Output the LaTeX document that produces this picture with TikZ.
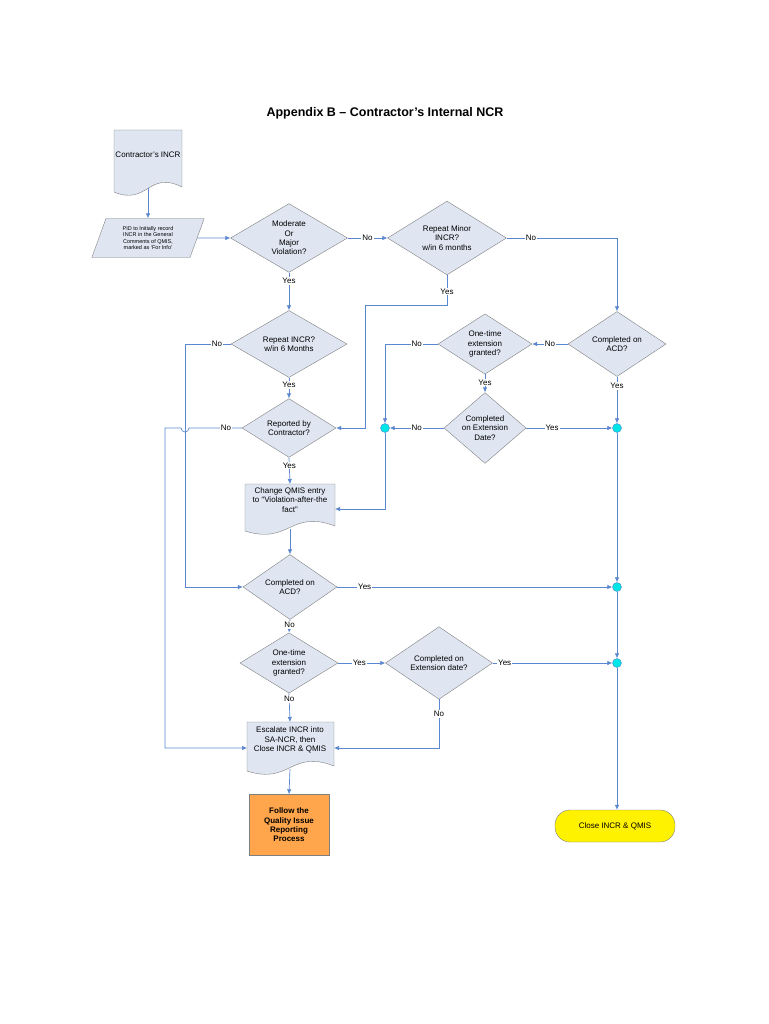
\documentclass[tikz,border=0pt]{standalone}
\usepackage{fontspec}
\setmainfont{Liberation Sans}
\usetikzlibrary{shapes.geometric,arrows.meta}
\definecolor{lnblue}{HTML}{5B87D0}
\definecolor{boxfill}{HTML}{DFE6F2}
\definecolor{boxline}{HTML}{7F7F7F}
\definecolor{juncfill}{HTML}{00E6E6}
\begin{document}
\begin{tikzpicture}[x=1pt,y=-1pt,font=\fontsize{8}{9.3}\selectfont,
  line/.style={draw=lnblue,line width=0.7pt},
  arr/.style={line,-{Latex[length=5pt,width=4.5pt]}},
  dec/.style={diamond,draw=boxline,fill=boxfill,inner sep=0pt,align=center},
  doc/.style={inner sep=0pt,align=center},
  lab/.style={fill=white,inner sep=1pt},
  junc/.style={circle,draw=lnblue,fill=juncfill,minimum size=9pt,inner sep=0pt}]
\useasboundingbox (0,0) rectangle (768,1024);
\node[font=\bfseries\fontsize{12.5}{14}\selectfont] (title) at (385,113) {Appendix B -- Contractor’s Internal NCR};

% document shapes
\newcommand{\docpath}[4]{% x1, y1, x2, y2
  \draw[boxline,fill=boxfill] (#1,#2) -- (#3,#2) -- (#3,#4-5) .. controls ({(#1+#3)/2},#4-22) and ({(#1+#3)/2},#4+14) .. (#1,#4) -- cycle;}
\docpath{114}{130}{182}{192}
\node[doc] (start) at (148,155) {Contractor’s INCR};
\docpath{245}{484}{335}{531}
\node[doc] (chg) at (290,500) {Change QMIS entry\\to ``Violation-after-the\\fact”};
\docpath{247}{722}{334}{771}
\node[doc] (esc) at (290,740) {Escalate INCR into\\SA-NCR, then\\Close INCR \& QMIS};

\node[trapezium,trapezium left angle=70,trapezium right angle=110,draw=boxline,fill=boxfill,
  minimum width=105pt,minimum height=39pt,inner sep=0pt,align=center,
  font=\fontsize{5.5}{6.5}\selectfont] (pid) at (148,238)
  {PID to Initially record\\INCR in the General\\Comments of QMIS,\\marked as ‘For Info’};

\node[dec,minimum width=117pt,minimum height=67pt] (mod) at (289,238) {Moderate\\Or\\Major\\Violation?};
\node[dec,minimum width=119pt,minimum height=67pt] (rmin) at (447,238) {Repeat Minor\\INCR?\\w/in 6 months};
\node[dec,minimum width=116pt,minimum height=67pt] (rep) at (289,344) {Repeat INCR?\\w/in 6 Months};
\node[dec,minimum width=98pt,minimum height=52pt] (acd1) at (617,344) {Completed on\\ACD?};
\node[dec,minimum width=94pt,minimum height=50pt] (ext1) at (485,344) {One-time\\extension\\granted?};
\node[dec,minimum width=82pt,minimum height=54pt] (ced1) at (485,428) {Completed\\on Extension\\Date?};
\node[dec,minimum width=94pt,minimum height=56pt] (byc) at (289,428) {Reported by\\Contractor?};
\node[dec,minimum width=94pt,minimum height=50pt] (acd2) at (290,587) {Completed on\\ACD?};
\node[dec,minimum width=98pt,minimum height=53pt] (ext2) at (289,663) {One-time\\extension\\granted?};
\node[dec,minimum width=107pt,minimum height=64pt] (ced2) at (439,663) {Completed on\\Extension date?};

\node[junc] (j1) at (385,428) {};
\node[junc] (j2) at (617,428) {};
\node[junc] (j3) at (617,587) {};
\node[junc] (j4) at (617,663) {};

\node[draw=boxline,fill=orange!70!white,minimum width=80pt,minimum height=61pt,align=center,
  font=\bfseries\fontsize{8}{9.3}\selectfont] (qir) at (289,825)
  {Follow the\\Quality Issue\\Reporting\\Process};
\node[draw=boxline,fill=yellow,rounded corners=15pt,minimum width=120pt,minimum height=32pt] (close) at (615,826) {Close INCR \& QMIS};

\coordinate (c1) at (617,238);
\coordinate (c2) at (447,305);
\coordinate (c3) at (365,305);
\coordinate (c4) at (365,428);
\coordinate (c5) at (185,344);
\coordinate (c6) at (185,587);
\coordinate (c7) at (165,428);
\coordinate (c8) at (165,748);
\coordinate (c9) at (385,344);
\coordinate (c10) at (385,509);
\coordinate (c11) at (439,748);
\coordinate (startb) at (148,188);
\coordinate (chgb) at (290,529);
\coordinate (escb) at (290,769);

% connectors
\draw[arr] (startb) -- (pid);
\draw[arr] (pid) -- (mod);
\draw[arr] (mod) -- node[lab] {No} (rmin);
\draw[arr] (rmin.east) -- node[lab,pos=0.22] {No} (c1) -- (acd1.north);
\draw[arr] (mod.south) -- node[lab,pos=0.22] {Yes} (rep.north);
\draw[arr] (rmin.south) -- node[lab,pos=0.55] {Yes} (c2) -- (c3) -- (c4) -- (byc.east);
\draw[arr] (rep.west) -- node[lab,pos=0.3] {No} (c5) -- (c6) -- (acd2.west);
\draw[arr] (rep.south) -- node[lab,pos=0.35] {Yes} (byc.north);
\draw[arr] (byc.west) -- node[lab,pos=0.3] {No} (189,428) arc[start angle=0,end angle=180,radius=4] -- (c7) -- (c8) -- (247,748);
\draw[arr] (byc.south) -- node[lab,pos=0.3] {Yes} (290,484);
\draw[arr] (acd1.west) -- node[lab] {No} (ext1.east);
\draw[arr] (ext1.west) -- node[lab,pos=0.4] {No} (c9) -- (j1);
\draw[arr] (ext1.south) -- node[lab,pos=0.45] {Yes} (ced1.north);
\draw[arr] (ced1.west) -- node[lab] {No} (j1);
\draw[arr] (ced1.east) -- node[lab,pos=0.3] {Yes} (j2);
\draw[arr] (acd1.south) -- node[lab,pos=0.2] {Yes} (j2);
\draw[arr] (j1) -- (c10) -- (335,509);
\draw[arr] (chgb) -- (acd2.north);
\draw[arr] (acd2.east) -- node[lab,pos=0.1] {Yes} (j3);
\draw[arr] (j2) -- (j3);
\draw[arr] (acd2.south) -- node[lab,pos=0.4] {No} (ext2.north);
\draw[arr] (ext2.east) -- node[lab,pos=0.45] {Yes} (ced2.west);
\draw[arr] (ced2.east) -- node[lab,pos=0.1] {Yes} (j4);
\draw[arr] (j3) -- (j4);
\draw[arr] (ext2.south) -- node[lab,pos=0.2] {No} (290,722);
\draw[arr] (ced2.south) -- node[lab,pos=0.3] {No} (c11) -- (334,748);
\draw[arr] (escb) -- (qir.north);
\draw[arr] (j4) -- (close.north -| j4);
\end{tikzpicture}
\end{document}
